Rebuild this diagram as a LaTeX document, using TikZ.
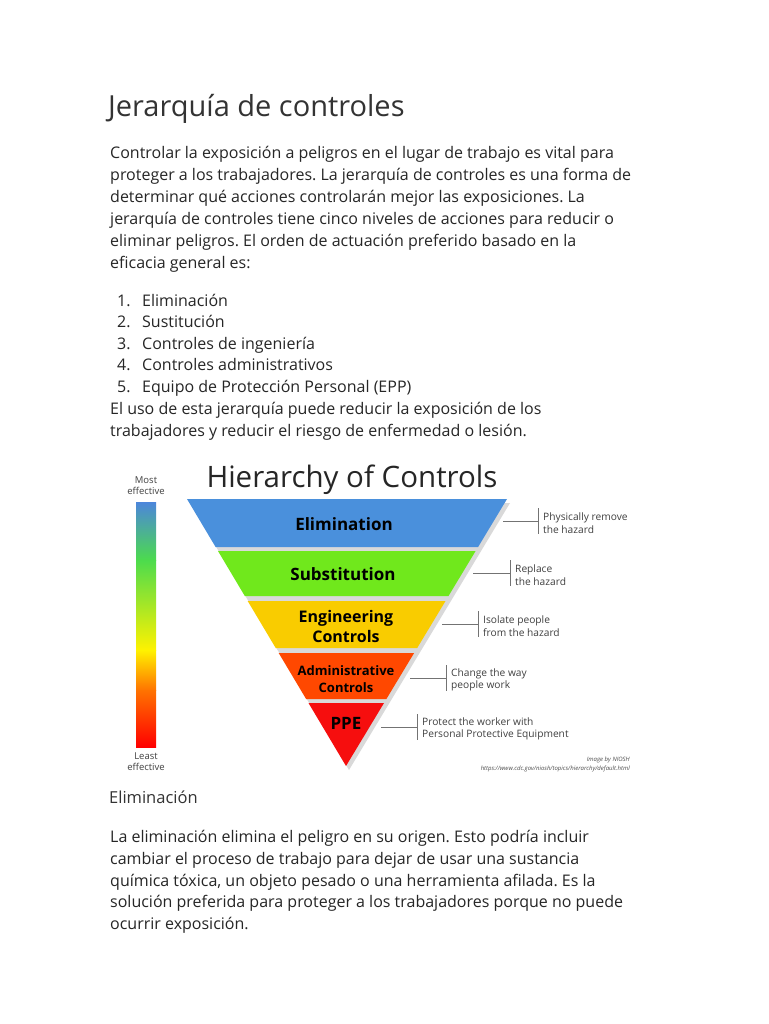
\documentclass[tikz,border=0pt]{standalone}
\usepackage{fontspec}
\setmainfont{Open Sans}
\frenchspacing
\begin{document}
\begin{tikzpicture}[x=1pt,y=-1pt,
  body/.style={anchor=base west,inner sep=0pt,font=\fontsize{16}{20}\selectfont,text=black!85},
  band/.style={font=\bfseries,text=black,align=center,inner sep=0pt},
  note/.style={anchor=west,align=left,font=\fontsize{10.2}{12.5}\selectfont,text=black!75,inner sep=0pt},
  lead/.style={draw=black!55,line width=0.7pt},
  small/.style={align=center,font=\fontsize{9.5}{11}\selectfont,text=black!75,inner sep=0pt}]
\useasboundingbox (0,0) rectangle (768,1024);
\fill[white] (0,0) rectangle (768,1024);
\node[anchor=base west,inner sep=0pt,font=\fontsize{29}{34}\selectfont,text=black!80] (title) at (108,117) {Jerarquía de controles};
\node[body] (p1) at (110,159) {Controlar la exposición a peligros en el lugar de trabajo es vital para};
\node[body] (p2) at (110,181) {proteger a los trabajadores. La jerarquía de controles es una forma de};
\node[body] (p3) at (110,203) {determinar qué acciones controlarán mejor las exposiciones. La};
\node[body] (p4) at (110,225) {jerarquía de controles tiene cinco niveles de acciones para reducir o};
\node[body] (p5) at (110,246) {eliminar peligros. El orden de actuación preferido basado en la};
\node[body] (p6) at (110,268) {eficacia general es:};
\foreach \n/\t/\y in {1/Eliminación/306,2/Sustitución/327,3/Controles de ingeniería/349,4/Controles administrativos/370,5/Equipo de Protección Personal (EPP)/392}{
  \node[body] (n\n) at (117,\y) {\n.};
  \node[body] (l\n) at (142,\y) {\t};
}
\node[body] (q1) at (110,414) {El uso de esta jerarquía puede reducir la exposición de los};
\node[body] (q2) at (110,436) {trabajadores y reducir el riesgo de enfermedad o lesión.};
% diagram
\node[inner sep=0pt,font=\fontsize{29.5}{34}\selectfont,text=black!85] (htitle) at (352,480) {Hierarchy of Controls};
\node[small] (most) at (146,486) {Most\\effective};
\node[small] (least) at (146,762) {Least\\effective};
\fill[top color=blue!60!cyan!80!black!70!white, bottom color=green!80!black!70!white] (136,502) rectangle (156,560.5);
\fill[top color=green!80!black!70!white, bottom color=yellow!90!orange] (136,560) rectangle (156,650.5);
\fill[top color=yellow!90!orange, bottom color=orange!90!red] (136,650) rectangle (156,690.5);
\fill[top color=orange!90!red, bottom color=red] (136,690) rectangle (156,747);
\fill[black!15] (190,503) -- (510,503) -- (349,770) -- cycle;
\fill[fill={rgb,255:red,74;green,144;blue,220}] (187,499) -- (507,499) -- (478.1,547) -- (215.6,547) -- cycle;
\fill[fill={rgb,255:red,112;green,232;blue,28}] (218,551) -- (475.6,551) -- (448.5,596) -- (244.8,596) -- cycle;
\fill[fill={rgb,255:red,249;green,204;blue,0}] (247.7,601) -- (445.5,601) -- (417.2,648) -- (275.7,648) -- cycle;
\fill[fill={rgb,255:red,255;green,72;blue,0}] (278.7,653) -- (414.1,653) -- (386.4,699) -- (306.1,699) -- cycle;
\fill[fill={rgb,255:red,246;green,14;blue,14}] (308.5,703) -- (384,703) -- (346,766) -- cycle;
\node[band,font=\fontsize{17}{20}\selectfont\bfseries] (b1) at (344,524) {Elimination};
\node[band,font=\fontsize{17}{20}\selectfont\bfseries] (b2) at (343,574) {Substitution};
\node[band,font=\fontsize{16}{20}\selectfont\bfseries] (b3) at (346,626) {Engineering\\Controls};
\node[band,font=\fontsize{13}{16.5}\selectfont\bfseries] (b4) at (346,679) {Administrative\\Controls};
\node[band,font=\fontsize{17}{20}\selectfont\bfseries] (b5) at (346,723) {PPE};
% callouts
\foreach \i/\xa/\xb/\y/\t in {1/503/538/521/{Physically remove\\the hazard},2/473/510/573/{Replace\\the hazard},3/442/478/624/{Isolate people\\from the hazard},4/410/446/678/{Change the way\\people work},5/381/417/727/{Protect the worker with\\Personal Protective Equipment}}{
  \coordinate (s\i) at (\xa,\y);
  \coordinate (e\i) at (\xb,\y);
  \coordinate (t\i) at (\xb,\y-13);
  \coordinate (u\i) at (\xb,\y+13);
  \draw[lead] (s\i) -- (e\i);
  \draw[lead] (t\i) -- (u\i);
  \node[note] (c\i) at (\xb+5,\y+2) {\t};
}
\node[anchor=east,inner sep=0pt,font=\itshape\fontsize{6}{7}\selectfont,text=black!70] (cr1) at (630,760) {Image by NIOSH};
\node[anchor=east,inner sep=0pt,font=\itshape\fontsize{6}{7}\selectfont,text=black!70] (cr2) at (630,769) {https://www.cdc.gov/niosh/topics/hierarchy/default.html};
% last section
\node[anchor=base west,inner sep=0pt,font=\fontsize{16.5}{20}\selectfont,text=black!80] (h2) at (109,803) {Eliminación};
\node[body] (r1) at (110,842) {La eliminación elimina el peligro en su origen. Esto podría incluir};
\node[body] (r2) at (110,864) {cambiar el proceso de trabajo para dejar de usar una sustancia};
\node[body] (r3) at (110,886) {química tóxica, un objeto pesado o una herramienta afilada. Es la};
\node[body] (r4) at (110,907) {solución preferida para proteger a los trabajadores porque no puede};
\node[body] (r5) at (110,929) {ocurrir exposición.};
\end{tikzpicture}
\end{document}
